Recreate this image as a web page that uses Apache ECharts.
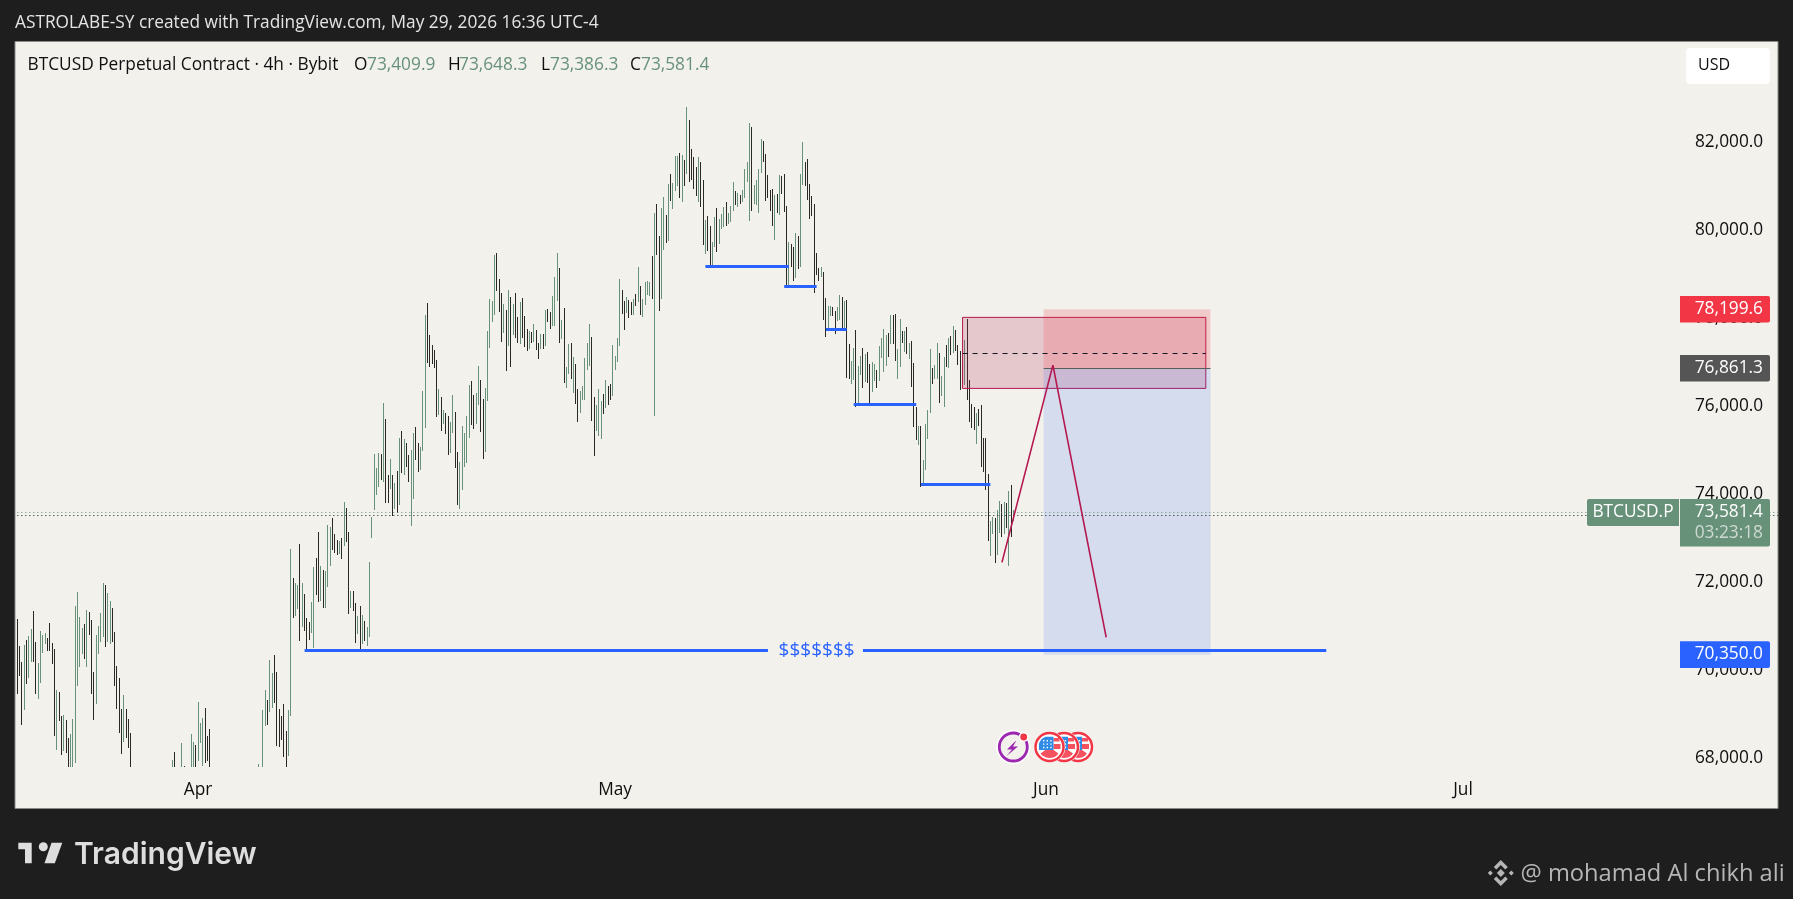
<!DOCTYPE html>
<html><head><meta charset="utf-8"><style>html,body{margin:0;padding:0;background:#1e1e1e}#c{width:1793px;height:899px}</style>
<script src="https://cdn.jsdelivr.net/npm/echarts@6/dist/echarts.min.js"></script></head><body><div id="c"></div>
<script>
const _=null;
const priceTicks=[68000,70000,72000,74000,76000,78000,80000,82000];
const monthLabels={'04-01':'Apr','05-01':'May','06-01':'Jun','07-01':'Jul'};
const highs=[
71170,70550,70180,70570,70680,70770,70930,71340,70640,70160,
70890,70800,70840,70730,71070,70610,70480,69550,69500,68950,
68980,68860,68450,68540,68890,71450,71770,71200,70950,71050,
71360,71320,71140,69950,70800,71000,71300,71980,71930,71750,
71570,71410,70860,70090,69820,69110,69430,69110,68890,68570,
_,_,_,_,_,_,_,_,_,_,
_,_,_,_,_,_,_,67950,68140,_,
_,68340,67820,_,_,68550,68360,68300,69270,68800,
68910,69140,68500,68660,_,_,_,_,_,_,
_,_,_,_,_,_,_,_,_,_,
_,_,_,_,67860,_,69090,69550,69320,70230,
69930,70340,69960,69110,68960,69230,68610,69090,72750,72090,
71980,71930,72860,71980,71730,71180,71090,71550,72340,72550,
73140,72360,72270,72250,73300,73250,73460,73090,72960,72930,
73000,73820,73680,73140,71800,71800,71520,71230,71450,71250,
71110,70980,72460,73485,74910,74590,74930,74910,76070,75700,
74430,74800,74430,74250,74520,75270,75430,75250,75160,74890,
75000,75390,75520,75160,75070,76340,78070,78340,77610,77390,
77270,77050,76390,76210,75910,75840,75770,75640,76250,75860,
74960,74730,75550,75390,75770,76480,76570,76250,76300,76910,
76590,76160,76410,77700,78430,78390,79430,79480,78890,78570,
78320,78180,78640,78480,78320,78570,78020,78360,78460,78050,
77750,77710,77680,77860,77730,77430,77640,77640,78180,78210,
78140,78500,78930,79480,79140,77950,78230,76890,77410,77430,
77110,76950,76390,76340,76450,77090,77430,77860,77570,76200,
76020,76390,76110,76270,76590,76450,76500,77390,77140,77550,
78890,78640,78390,78480,78410,78360,78430,78550,79160,78730,
78430,78820,78840,78820,79410,80390,80590,79860,80500,80750,
80340,81050,81270,81070,81680,81680,81750,81700,81590,82800,
82500,81840,81660,81430,81660,81550,81140,80230,80320,80090,
79730,80300,80500,80250,80360,80520,80640,80390,80550,81090,
80890,80840,80800,80910,81390,81550,82430,82340,81020,81140,
81390,82070,82020,81730,81250,80910,80930,80800,80820,81250,
81230,81270,80550,79730,79680,79610,79930,79860,81270,82000,
81550,81610,81050,80770,80590,79480,79140,79160,79050,78450,
78270,78270,78250,78160,78250,78520,78480,78390,78410,77410,
77020,77320,77730,76910,77140,77320,77180,77230,76950,77000,
76950,76820,77360,77550,77750,77610,77660,78070,78070,78090,
77300,77980,77700,77700,77800,77430,77480,76980,75980,75550,
75550,74770,75590,75910,77300,76860,76930,77430,77200,76680,
77110,77390,77550,77590,77820,77730,77390,77250,76950,77500,
77980,76590,76050,75980,75840,75930,76020,75270,75270,74450,
73390,73480,73450,73640,73840,73770,73820,73800,74070,74200,
73648.3];
const lows=[
69450,69860,68750,69090,69680,69820,70180,70180,69450,69340,
69700,70390,70590,70430,70430,70140,68500,68180,68840,68070,
68160,68110,67700,67700,67700,67890,69640,70070,70360,70250,
70070,70800,69450,68860,69230,70360,70640,70750,70520,70640,
70590,70640,69640,69110,68570,68090,68360,68450,68230,67700,
_,_,_,_,_,_,_,_,_,_,
_,_,_,_,_,_,_,67700,67700,_,
_,67700,67700,_,_,67700,67700,67700,67930,68340,
67820,67890,67930,67700,_,_,_,_,_,_,
_,_,_,_,_,_,_,_,_,_,
_,_,_,_,67700,_,67700,68730,68750,69050,
69140,69250,68270,68250,68410,68020,67700,68050,68960,71180,
71230,71390,70660,70980,70890,70430,70680,70840,70500,71710,
71550,71570,71410,71410,71890,72360,72730,72660,72610,72640,
72520,72820,72910,71270,71410,71340,70610,70820,70480,70590,
70660,70550,70750,73000,73640,73980,74160,74320,74270,73800,
73800,74110,73500,73660,73570,73750,74480,74430,74610,74270,
73280,73890,74770,74500,74550,74980,75500,76980,76890,76960,
76860,75750,75800,75430,75590,75360,74890,74930,75390,74590,
73750,73660,74090,74610,74700,75270,75570,75480,75590,76020,
75410,74800,74960,76110,77320,77910,78070,78610,78140,77460,
77660,76800,77360,76890,77610,77550,77430,77410,77550,77340,
77250,77300,77430,77460,77270,77070,77300,77300,77360,77910,
77750,77820,77820,78390,77430,77520,76520,76410,76730,76610,
76300,76050,75640,75840,76140,76140,76820,76910,75660,74860,
75430,75320,75250,75820,75950,76020,76140,76230,76820,77000,
77360,78090,77730,78110,78000,78070,78070,78270,78360,78070,
78020,78300,78520,78500,78430,75770,79430,78160,78430,79550,
79700,79750,80660,80480,80890,81000,80730,80640,81000,81270,
81090,81140,80930,80770,80640,80520,79660,79450,79520,79140,
79180,79610,79500,79680,80020,80070,80090,80140,80180,80430,
80570,80520,80590,80640,80730,81090,80200,80430,80590,80570,
80390,81300,81550,80660,80730,80430,80090,79770,80390,80340,
80820,80410,78730,78680,79160,78840,78910,79110,79160,81020,
81000,80680,80250,80320,78570,78980,78840,78930,77950,77570,
77770,78050,78050,77640,77930,77950,77770,77770,76640,76610,
76500,76590,75980,76050,76700,76410,76550,76520,76050,76320,
76570,76410,76570,77090,76770,76910,77110,77410,77410,77020,
76610,76890,77430,77230,77180,77070,76430,75520,75230,75110,
74160,74250,74550,75250,75840,76500,76610,76610,76070,76230,
75980,76890,76860,77160,77200,77250,76930,76360,76500,76480,
76140,75640,75500,75450,75140,75550,74610,74500,74090,72930,
72590,73090,72430,72610,73110,73020,73090,73230,72360,73020,
73386.3];
const directions=
"KKKGKGGKKG"+"GGGKKKKGKK"+"GKKGGGGGGK"+"GKKKGGGGKG"+"GKKKKKGKKK"+
".........."+".......GK."+".GK..GGKGG"+"GKKK......"+".........."+
"....G.GGKG"+"GKKKKKKGGK"+"GGKGKKKGGK"+"KGKGGGKKKG"+"KGKKGKKGKG"+
"KGGGGGGKGK"+"KGKGKGKGKK"+"GGKKGGGKKK"+"KKGKGKKGGK"+"KGGGGGKKGG"+
"KKGGGGGKKK"+"GKGKGKKGKK"+"KGKGKKGKGK"+"KGGGKGKGGK"+"GKKGGGGGKK"+
"GGGKGKKGGG"+"GKKGKKGKGK"+"GGGGKGKKGG"+"KGKGGGKGKG"+"KKKKGKKGKK"+
"GGKGGGKGGG"+"KGKGGGGKGG"+"GGKKKKKGKG"+"KKKGKKGKGG"+"KKKKKKKGKK"+
"GGKKGGKGKK"+"GGKGGKGKKG"+"GKGGGGKGKK"+"GGKGKGKKKG"+"KGGGGKGGKG"+
"GKGKGKKKGG"+"KKKKGKKKKK"+"GGKGGKGKGK"+"G";
const lastPrice=73581.4, askLine=73513;
const levelPrices=[79175,78720,77743,76039,74220];
const levelFrom=[297,331,349,361,390];
const levelTo=[333,345,358,388,420];
const liquidity=70448, liquidityFrom=124, gapFrom=324, gapTo=365, liquidityMid=345, liquidityTo=565;
const zoneTop=78016, zoneBottom=76402, zoneFrom=408, zoneTo=513;
const stopPrice=78199.6, entryPrice=76861.3, targetPrice=70350, riskFrom=443, riskTo=515;
const pathIdx=[425,447,470], pathPrice=[72448,76932,70743];

if(highs.length!==431||lows.length!==431||directions.length!==431) throw new Error('len '+highs.length+' '+lows.length+' '+directions.length);

const GREEN='#68917a',BLACK='#2a2926',BG='#f2f1ec',BLUE='#2962ff',CRIM='#b5174f',INK='#0f0f0f',FONT='"Open Sans",sans-serif',FS=17.3;
const categories=[];
{const t0=Date.UTC(2026,2,19);for(let i=0;i<761;i++){const d=new Date(t0+i*4*3600e3);
 categories.push(d.toISOString().slice(5,16).replace('T',' '));}}
const barRows=[];
highs.forEach((h,i)=>{if(h!==null)barRows.push([i,lows[i],h,directions[i]==='G'?1:0]);});
const chart=echarts.init(document.getElementById('c'),null,{renderer:'canvas',width:1793,height:899});
const seg=(x0,y0,x1,y1,extra)=>[Object.assign({xAxis:x0,yAxis:y0},extra||{}),{xAxis:x1,yAxis:y1}];
const solidBlue={lineStyle:{color:BLUE,width:3,type:'solid'}};
chart.setOption({
 animation:false,backgroundColor:'#1e1e1e',
 grid:{left:16.2,right:13.8,top:42,bottom:132,containLabel:false},
 xAxis:{type:'category',data:categories,boundaryGap:true,axisLine:{show:false},axisTick:{show:false},splitLine:{show:false},
  axisLabel:{interval:(i,v)=>!!monthLabels[v.slice(0,5)]&&v.endsWith('00:00'),formatter:v=>monthLabels[v.slice(0,5)]||'',
   color:INK,fontFamily:FONT,fontSize:FS,margin:15,hideOverlap:false}},
 yAxis:{type:'value',position:'right',scale:true,min:67797,max:84275,axisLine:{show:false},axisTick:{show:false},splitLine:{show:false},
  axisLabel:{inside:true,margin:16,customValues:priceTicks,color:INK,fontFamily:FONT,fontSize:FS,padding:[0,0,2,0],
   formatter:v=>v.toLocaleString('en-US',{minimumFractionDigits:1,maximumFractionDigits:1})}},
 series:[
  {type:'custom',data:barRows,clip:true,silent:true,z:2,encode:{x:0,y:[1,2]},
   renderItem:(params,api)=>{
     const lo=api.coord([api.value(0),api.value(1)]),hi=api.coord([api.value(0),api.value(2)]);
     const x=Math.round(lo[0]-0.5)+0.5;
     return {type:'line',shape:{x1:x,y1:Math.round(lo[1]),x2:x,y2:Math.round(hi[1])},
       style:{stroke:api.value(3)?GREEN:BLACK,lineWidth:1}};
   }},
  {type:'line',data:pathIdx.map((x,i)=>[x,pathPrice[i]]),showSymbol:false,silent:true,z:5,lineStyle:{color:CRIM,width:1.6},
   markArea:{silent:true,z:3,data:[
     [{xAxis:zoneFrom,yAxis:zoneTop,itemStyle:{color:'rgba(178,40,80,0.2)',borderColor:CRIM,borderWidth:1}},{xAxis:zoneTo,yAxis:zoneBottom}],
     [{xAxis:riskFrom,yAxis:stopPrice,itemStyle:{color:'rgba(242,54,69,0.2)'}},{xAxis:riskTo,yAxis:entryPrice}],
     [{xAxis:riskFrom,yAxis:entryPrice,itemStyle:{color:'rgba(41,98,255,0.15)'}},{xAxis:riskTo,yAxis:targetPrice}]
   ]},
   markLine:{silent:true,symbol:'none',z:4,label:{show:false},data:[
     ...levelPrices.map((p,i)=>seg(levelFrom[i],p,levelTo[i],p,solidBlue)),
     seg(liquidityFrom,liquidity,gapFrom,liquidity,solidBlue),
     seg(gapTo,liquidity,liquidityTo,liquidity,solidBlue),
     seg(zoneFrom,(zoneTop+zoneBottom)/2,zoneTo,(zoneTop+zoneBottom)/2,{lineStyle:{color:'#131722',width:1,type:[5,5]}}),
     seg(riskFrom,entryPrice,riskTo,entryPrice,{lineStyle:{color:'#555f5a',width:1,type:'solid'}}),
     seg(0,lastPrice,760,lastPrice,{lineStyle:{color:GREEN,width:1,type:[1,3]}}),
     seg(0,askLine,760,askLine,{lineStyle:{color:'#131722',width:1,type:[1,3]}})
   ]},
   markPoint:{silent:true,symbol:'rect',symbolSize:1,itemStyle:{color:'rgba(0,0,0,0)'},z:6,
     label:{show:true,position:'inside',formatter:'$$$$$$$',color:BLUE,fontSize:19,fontFamily:FONT},
     data:[{xAxis:liquidityMid,yAxis:liquidity}]}}
 ]
});
const yOf=p=>chart.convertToPixel({yAxisIndex:0},p);
const text=(t,x,y,fill,size,o)=>({type:'text',z:o&&o.z||60,silent:true,style:{text:t,x,y,fill,font:(o&&o.w||'400')+' '+size+'px '+(o&&o.f||FONT),textAlign:o&&o.a||'left',textVerticalAlign:'middle'}});
const rect=(x,y,w,h,fill,r,z)=>({type:'rect',z:z||50,silent:true,shape:{x,y,width:w,height:h,r:r||0},style:{fill}});
const poly=(pts,fill,z)=>({type:'polygon',z:z||60,silent:true,shape:{points:pts},style:{fill}});
const circle=(cx,cy,r,fill,stroke,lw,z)=>({type:'circle',z:z||60,silent:true,shape:{cx,cy,r},style:{fill,stroke:stroke||null,lineWidth:lw||0}});
const tag=(p,fill,label)=>{const c=yOf(p);return [rect(1680,c-13.3,90,26.6,fill,[0,2,2,0]),text(label,1763,c-0.5,'#fff',FS,{a:'right'})];};
const g=[];
g.push({type:'rect',z:-10,silent:true,shape:{x:15,y:41.5,width:1763,height:767},style:{fill:BG,stroke:'#8a8a86',lineWidth:1}});
g.push(text('ASTROLABE-SY created with TradingView.com, May 29, 2026 16:36 UTC-4',15,23.5,'#e4e4e4',FS));
g.push(text('BTCUSD Perpetual Contract · 4h · Bybit',27.5,65,INK,FS));
[['O',354,'73,409.9',367],['H',448,'73,648.3',459],['L',541,'73,386.3',550],['C',630,'73,581.4',641]].forEach(a=>{
 g.push(text(a[0],a[1],65,INK,FS));g.push(text(a[2],a[3],65,GREEN,FS));});
g.push(rect(1686,48,84,36,'#ffffff',4));g.push(text('USD',1698,65.5,INK,16));
g.push(...tag(stopPrice,'#f23645','78,199.6'));
g.push(...tag(entryPrice,'#555555','76,861.3'));
g.push(...tag(targetPrice,BLUE,'70,350.0'));
g.push(rect(1587,499,92,27,GREEN,[2,0,0,2]));g.push(text('BTCUSD.P',1633,512,'#fff',FS,{a:'center'}));
g.push(rect(1680,499,90,47.6,GREEN,[0,2,2,0]));
g.push(text('73,581.4',1763,512,'#fff',FS,{a:'right'}));g.push(text('03:23:18',1763,533,'#cfdad3',FS,{a:'right'}));
/* event icons */
[1078,1064,1049.5].forEach((cx,i)=>{const z=70+i*3,cy=747,R=11;
 g.push(circle(cx,cy,15.5,'#ffffff','#f2f1ec',1,z));
 g.push(circle(cx,cy,14,'#ffffff','#f23645',2.5,z));
 g.push(rect(cx+4,cy-9,6,3.5,'#f4525e',0,z));
 g.push(rect(cx+4,cy-3,7,5,'#f4525e',0,z));
 g.push({type:'sector',z,silent:true,shape:{cx,cy,r:R,r0:0,startAngle:0.62,endAngle:Math.PI-0.62},style:{fill:'#f4525e'}});
 const canton=[[cx+4,cy+3],[cx-10.6,cy+3]];
 for(let k=0;k<=10;k++){const a=Math.PI+0.27+k*(Math.PI/2-0.27-0.37)/10;canton.push([cx+R*Math.cos(a),cy+R*Math.sin(a)]);}
 canton.push([cx+4,cy-10.2]);
 g.push(poly(canton,'#2f8be6',z));
 for(let r=0;r<3;r++)for(let c=0;c<3;c++)g.push(rect(cx-6.5+c*3.6,cy-7+r*3.4,1.4,1.4,'#ffffff',0,z));
});
g.push(circle(1013.3,747,17,'#ffffff',null,0,68));
g.push(circle(1013.3,747,14,'#f2f1ec','#9c27b0',2.8,68));
g.push(poly([[1015.5,741],[1007,749.5],[1012,749.5],[1006.5,756],[1018,746.5],[1013,746.5],[1016,741]],'#9c27b0',69));
g.push(circle(1023.7,737,4.2,'#f23645','#fff',1.5,69));
/* TradingView logo */
const LOGO='#dedede';
g.push(poly([[18.3,842.7],[31.7,842.7],[31.7,863.3],[25,863.3],[25,849.3],[18.3,849.3]],LOGO));
g.push(circle(43.3,846.7,4.5,LOGO));
g.push(poly([[51.5,842.7],[62.3,842.7],[54.8,863.3],[44.5,863.3]],LOGO));
g.push(text('TradingView',74,854.5,'#dedede',30,{w:'600',f:'Inter,"Open Sans",sans-serif'}));
/* watermark */
const WM='#b6b6b6',bx=1500.8,by=873;
g.push(poly([[bx,by-4],[bx+4,by],[bx,by+4],[bx-4,by]],WM));
g.push(poly([[bx-13,by],[bx-10.5,by-2.5],[bx-8,by],[bx-10.5,by+2.5]],WM));
g.push(poly([[bx+13,by],[bx+10.5,by-2.5],[bx+8,by],[bx+10.5,by+2.5]],WM));
g.push(poly([[bx,by-13],[bx+7,by-6],[bx+4.5,by-3.5],[bx,by-8],[bx-4.5,by-3.5],[bx-7,by-6]],WM));
g.push(poly([[bx,by+13],[bx+7,by+6],[bx+4.5,by+3.5],[bx,by+8],[bx-4.5,by+3.5],[bx-7,by+6]],WM));
g.push(text('@ mohamad Al chikh ali',1520.5,874,WM,23.7,{w:'400'}));
chart.setOption({graphic:{elements:g}});
</script></body></html>
